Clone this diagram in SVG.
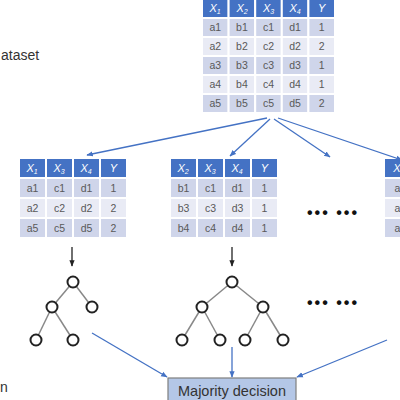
<svg xmlns="http://www.w3.org/2000/svg" width="400" height="400" viewBox="0 0 400 400">
<defs>
<marker id="ab" viewBox="0 0 10 10" refX="9" refY="5" markerWidth="5" markerHeight="5" orient="auto"><path d="M0,1 L10,5 L0,9 z" fill="#4472c4"/></marker>
<marker id="ak" viewBox="0 0 10 10" refX="9" refY="5" markerWidth="5" markerHeight="5" orient="auto"><path d="M0,1 L10,5 L0,9 z" fill="#222"/></marker>
<style>
.h{fill:#4472c4;stroke:#fff;stroke-width:2}
.d{fill:#cfd5ea;stroke:#fff;stroke-width:2}
.l{fill:#e9ebf5;stroke:#fff;stroke-width:2}
.ht{font-family:"Liberation Sans",sans-serif;font-style:italic;font-size:11px;fill:#fff;text-anchor:middle}
.ct{font-family:"Liberation Sans",sans-serif;font-size:10.5px;fill:#595959;text-anchor:middle}
.bl{stroke:#4472c4;stroke-width:1.3;fill:none;marker-end:url(#ab)}
.bk{stroke:#222;stroke-width:1.3;fill:none;marker-end:url(#ak)}
.tl{stroke:#888;stroke-width:1.5}
.nd{fill:#fff;stroke:#222;stroke-width:2}
.lab{font-family:"Liberation Sans",sans-serif;font-size:14px;fill:#333}
.dots{font-family:"Liberation Sans",sans-serif;font-size:16px;fill:#111;font-weight:bold;letter-spacing:2px}
</style>
</defs>
<rect width="400" height="400" fill="#fff"/>
<text class="lab" x="1" y="60">ataset</text>
<text class="lab" x="0" y="392">n</text>

<g id="dataset">
<rect class="h" x="202" y="-2" width="26.6" height="20"/><rect class="h" x="228.6" y="-2" width="26.6" height="20"/><rect class="h" x="255.2" y="-2" width="26.6" height="20"/><rect class="h" x="281.8" y="-2" width="26.6" height="20"/><rect class="h" x="308.4" y="-2" width="26.6" height="20"/>
<g class="d"><rect x="202" y="18" width="26.6" height="19"/><rect x="228.6" y="18" width="26.6" height="19"/><rect x="255.2" y="18" width="26.6" height="19"/><rect x="281.8" y="18" width="26.6" height="19"/><rect x="308.4" y="18" width="26.6" height="19"/></g>
<g class="l"><rect x="202" y="37" width="26.6" height="19"/><rect x="228.6" y="37" width="26.6" height="19"/><rect x="255.2" y="37" width="26.6" height="19"/><rect x="281.8" y="37" width="26.6" height="19"/><rect x="308.4" y="37" width="26.6" height="19"/></g>
<g class="d"><rect x="202" y="56" width="26.6" height="19"/><rect x="228.6" y="56" width="26.6" height="19"/><rect x="255.2" y="56" width="26.6" height="19"/><rect x="281.8" y="56" width="26.6" height="19"/><rect x="308.4" y="56" width="26.6" height="19"/></g>
<g class="l"><rect x="202" y="75" width="26.6" height="19"/><rect x="228.6" y="75" width="26.6" height="19"/><rect x="255.2" y="75" width="26.6" height="19"/><rect x="281.8" y="75" width="26.6" height="19"/><rect x="308.4" y="75" width="26.6" height="19"/></g>
<g class="d"><rect x="202" y="94" width="26.6" height="19"/><rect x="228.6" y="94" width="26.6" height="19"/><rect x="255.2" y="94" width="26.6" height="19"/><rect x="281.8" y="94" width="26.6" height="19"/><rect x="308.4" y="94" width="26.6" height="19"/></g>
<text class="ht" x="215" y="12">X<tspan font-size="7" dy="2">1</tspan></text>
<text class="ht" x="242" y="12">X<tspan font-size="7" dy="2">2</tspan></text>
<text class="ht" x="268.5" y="12">X<tspan font-size="7" dy="2">3</tspan></text>
<text class="ht" x="295" y="12">X<tspan font-size="7" dy="2">4</tspan></text>
<text class="ht" x="321.7" y="12">Y</text>
<g class="ct">
<text x="215.3" y="31">a1</text><text x="241.9" y="31">b1</text><text x="268.5" y="31">c1</text><text x="295.1" y="31">d1</text><text x="321.7" y="31">1</text>
<text x="215.3" y="50">a2</text><text x="241.9" y="50">b2</text><text x="268.5" y="50">c2</text><text x="295.1" y="50">d2</text><text x="321.7" y="50">2</text>
<text x="215.3" y="69">a3</text><text x="241.9" y="69">b3</text><text x="268.5" y="69">c3</text><text x="295.1" y="69">d3</text><text x="321.7" y="69">1</text>
<text x="215.3" y="88">a4</text><text x="241.9" y="88">b4</text><text x="268.5" y="88">c4</text><text x="295.1" y="88">d4</text><text x="321.7" y="88">1</text>
<text x="215.3" y="107">a5</text><text x="241.9" y="107">b5</text><text x="268.5" y="107">c5</text><text x="295.1" y="107">d5</text><text x="321.7" y="107">2</text>
</g>
</g>

<g id="subset1">
<rect class="h" x="19" y="158" width="27" height="20"/><rect class="h" x="46" y="158" width="27" height="20"/><rect class="h" x="73" y="158" width="27" height="20"/><rect class="h" x="100" y="158" width="27" height="20"/>
<g class="d"><rect x="19" y="178" width="27" height="20"/><rect x="46" y="178" width="27" height="20"/><rect x="73" y="178" width="27" height="20"/><rect x="100" y="178" width="27" height="20"/></g>
<g class="l"><rect x="19" y="198" width="27" height="20"/><rect x="46" y="198" width="27" height="20"/><rect x="73" y="198" width="27" height="20"/><rect x="100" y="198" width="27" height="20"/></g>
<g class="d"><rect x="19" y="218" width="27" height="20"/><rect x="46" y="218" width="27" height="20"/><rect x="73" y="218" width="27" height="20"/><rect x="100" y="218" width="27" height="20"/></g>
<text class="ht" x="32" y="172">X<tspan font-size="7" dy="2">1</tspan></text>
<text class="ht" x="59" y="172">X<tspan font-size="7" dy="2">3</tspan></text>
<text class="ht" x="86" y="172">X<tspan font-size="7" dy="2">4</tspan></text>
<text class="ht" x="113.5" y="172">Y</text>
<g class="ct">
<text x="32.5" y="192">a1</text><text x="59.5" y="192">c1</text><text x="86.5" y="192">d1</text><text x="113.5" y="192">1</text>
<text x="32.5" y="212">a2</text><text x="59.5" y="212">c2</text><text x="86.5" y="212">d2</text><text x="113.5" y="212">2</text>
<text x="32.5" y="232">a5</text><text x="59.5" y="232">c5</text><text x="86.5" y="232">d5</text><text x="113.5" y="232">2</text>
</g>
</g>

<g id="subset2">
<rect class="h" x="170" y="158" width="27" height="20"/><rect class="h" x="197" y="158" width="27" height="20"/><rect class="h" x="224" y="158" width="27" height="20"/><rect class="h" x="251" y="158" width="27" height="20"/>
<g class="d"><rect x="170" y="178" width="27" height="20"/><rect x="197" y="178" width="27" height="20"/><rect x="224" y="178" width="27" height="20"/><rect x="251" y="178" width="27" height="20"/></g>
<g class="l"><rect x="170" y="198" width="27" height="20"/><rect x="197" y="198" width="27" height="20"/><rect x="224" y="198" width="27" height="20"/><rect x="251" y="198" width="27" height="20"/></g>
<g class="d"><rect x="170" y="218" width="27" height="20"/><rect x="197" y="218" width="27" height="20"/><rect x="224" y="218" width="27" height="20"/><rect x="251" y="218" width="27" height="20"/></g>
<text class="ht" x="183" y="172">X<tspan font-size="7" dy="2">2</tspan></text>
<text class="ht" x="210" y="172">X<tspan font-size="7" dy="2">3</tspan></text>
<text class="ht" x="237" y="172">X<tspan font-size="7" dy="2">4</tspan></text>
<text class="ht" x="264.5" y="172">Y</text>
<g class="ct">
<text x="183.5" y="192">b1</text><text x="210.5" y="192">c1</text><text x="237.5" y="192">d1</text><text x="264.5" y="192">1</text>
<text x="183.5" y="212">b3</text><text x="210.5" y="212">c3</text><text x="237.5" y="212">d3</text><text x="264.5" y="212">1</text>
<text x="183.5" y="232">b4</text><text x="210.5" y="232">c4</text><text x="237.5" y="232">d4</text><text x="264.5" y="232">1</text>
</g>
</g>

<g id="subset3">
<rect class="h" x="384" y="158" width="27" height="20"/>
<rect class="d" x="384" y="178" width="27" height="20"/>
<rect class="l" x="384" y="198" width="27" height="20"/>
<rect class="d" x="384" y="218" width="27" height="20"/>
<text class="ht" x="397" y="172">X</text>
<g class="ct"><text x="397.5" y="192">a</text><text x="397.5" y="212">a</text><text x="397.5" y="232">a</text></g>
</g>

<text class="dots" x="307" y="218">••• •••</text>
<text class="dots" x="307" y="308">••• •••</text>

<g id="tree1">
<line class="tl" x1="73" y1="282" x2="52" y2="307"/><line class="tl" x1="73" y1="282" x2="92" y2="307"/>
<line class="tl" x1="52" y1="307" x2="36" y2="340"/><line class="tl" x1="52" y1="307" x2="73" y2="340"/>
<circle class="nd" cx="73" cy="282" r="5.5"/><circle class="nd" cx="52" cy="307" r="5.5"/><circle class="nd" cx="92" cy="307" r="5.5"/>
<circle class="nd" cx="36" cy="340" r="5.5"/><circle class="nd" cx="73" cy="340" r="5.5"/>
</g>

<g id="tree2">
<line class="tl" x1="232" y1="282" x2="202" y2="307"/><line class="tl" x1="232" y1="282" x2="263" y2="307"/>
<line class="tl" x1="202" y1="307" x2="182" y2="340"/><line class="tl" x1="202" y1="307" x2="220" y2="340"/>
<line class="tl" x1="263" y1="307" x2="245" y2="340"/><line class="tl" x1="263" y1="307" x2="283" y2="340"/>
<circle class="nd" cx="232" cy="282" r="5.5"/><circle class="nd" cx="202" cy="307" r="5.5"/><circle class="nd" cx="263" cy="307" r="5.5"/>
<circle class="nd" cx="182" cy="340" r="5.5"/><circle class="nd" cx="220" cy="340" r="5.5"/><circle class="nd" cx="245" cy="340" r="5.5"/><circle class="nd" cx="283" cy="340" r="5.5"/>
</g>

<g id="majority">
<rect x="168" y="378" width="128" height="26" fill="#b4c7e7" stroke="#7f7f7f" stroke-width="1.2"/>
<text x="232" y="396" font-family="'Liberation Sans',sans-serif" font-size="14.5" fill="#333" text-anchor="middle">Majority decision</text>
</g>

<g id="connectors">
<line class="bl" x1="267" y1="118" x2="87" y2="155"/>
<line class="bl" x1="270" y1="119" x2="230" y2="156"/>
<line class="bl" x1="274" y1="119" x2="330" y2="157"/>
<line class="bl" x1="278" y1="118" x2="402" y2="160"/>
<line class="bk" x1="72" y1="247" x2="72" y2="266"/>
<line class="bk" x1="232" y1="247" x2="232" y2="266"/>
<line class="bl" x1="92" y1="333" x2="167" y2="377"/>
<line class="bl" x1="232" y1="347" x2="232" y2="377"/>
<line class="bl" x1="387" y1="340" x2="297" y2="377"/>
</g>
</svg>
